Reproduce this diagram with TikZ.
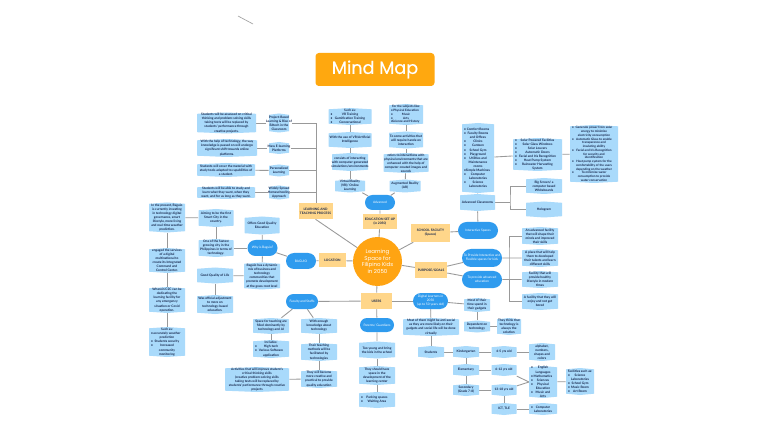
\documentclass[tikz,border=0pt]{standalone}
\usepackage{fontspec}
\setmainfont{Lato}
\newfontfamily\titlefont[FakeBold=0.35]{Poppins}
\newfontfamily\hubfont{Poppins}
\usetikzlibrary{shapes.misc}
\definecolor{boxfill}{HTML}{A9DAFB}
\definecolor{pillfill}{HTML}{2F9BEE}
\definecolor{orangebox}{HTML}{FFD68A}
\definecolor{hubfill}{HTML}{FFA412}
\definecolor{titlefill}{HTML}{FFA80F}
\definecolor{ink}{HTML}{14244A}
\definecolor{linkgray}{HTML}{999999}
\pgfdeclarelayer{background}
\pgfsetlayers{background,main}
\newlength\bw
\newcommand{\smalltxt}{\fontsize{2.4}{3.05}\selectfont}
\newcommand{\tighttxt}{\fontsize{2.3}{2.8}\selectfont}
\newcommand{\bxfont}{\smalltxt}
\newcommand{\bl}[1]{\hbox to \bw{\rlap{\textbullet}\hfill #1\hfill}}
\tikzset{
  boxtext/.style={inner sep=0pt,align=center,text=ink,font=\bxfont\bfseries},
  pilltext/.style={rounded rectangle,fill=pillfill,inner sep=0pt,align=center,text=white,font=\smalltxt},
  orangetext/.style={rectangle,fill=orangebox,inner sep=0pt,align=center,text=ink,font=\smalltxt\bfseries},
  link/.style={draw=linkgray,line width=0.65pt},
  faint/.style={draw=linkgray,line width=0.45pt}
}
% \bx{name}{cx}{cy}{w}{h}{text}
\newcommand{\bx}[6]{%
  \fill[boxfill,shift={(#2,#3)}] ({-#4/2},{-#5/2+1.3})
    .. controls ({-#4/4},{-#5/2}) and ({-#4/4},{-#5/2}) .. (0,{-#5/2})
    .. controls ({#4/4},{-#5/2}) and ({#4/4},{-#5/2}) .. ({#4/2},{-#5/2+1.3})
    -- ({#4/2},{#5/2-1.3})
    .. controls ({#4/4},{#5/2}) and ({#4/4},{#5/2}) .. (0,{#5/2})
    .. controls ({-#4/4},{#5/2}) and ({-#4/4},{#5/2}) .. ({-#4/2},{#5/2-1.3}) -- cycle;
  \setlength\bw{#4pt}\setlength\bw{0.75\bw}\addtolength\bw{-3pt}%
  \node[boxtext,minimum width=#4*0.75pt,minimum height=#5*0.75pt] (#1) at (#2,#3) {#6};}
\newcommand{\pl}[6]{\node[pilltext,minimum width=#4*0.75pt,minimum height=#5*0.75pt] (#1) at (#2,#3) {#6};}
\newcommand{\og}[6]{\node[orangetext,minimum width=#4*0.75pt,minimum height=#5*0.75pt] (#1) at (#2,#3) {#6};}
\begin{document}
\begin{tikzpicture}[x=0.75pt,y=-0.75pt]
\useasboundingbox (0,0) rectangle (768,431);
\begin{pgfonlayer}{background}
\fill[white] (0,0) rectangle (768,431);
\end{pgfonlayer}

\node[fill=titlefill,rounded corners=2.5pt,minimum width=89.25pt,minimum height=24.75pt,inner sep=0pt,text=white,font=\titlefont\fontsize{13.2}{16}\selectfont] (title) at (375,69.5) {Mind Map};

\coordinate (strayA) at (238,16);
\coordinate (strayB) at (253,24);

\node[circle,fill=hubfill,minimum size=36.75pt,inner sep=0pt,align=center,text=white,font=\hubfont\fontsize{4.1}{5}\selectfont] (hub) at (377.5,261.5) {Learning\\Space for\\Filipino Kids\\in 2050};

% orange category boxes
\og{learn}{315.5}{211}{34}{16}{LEARNING AND\\TEACHING PROCESS}
\og{edu}{380}{221.5}{34}{15}{EDUCATION SET-UP\\(in 2050)}
\og{school}{430.5}{233}{39}{18}{SCHOOL FACILITY\\(Spaces)}
\og{purpose}{431}{270}{32}{16}{PURPOSE/GOALS}
\og{loc}{332.5}{260.5}{27}{14}{LOCATION}
\og{users}{376.5}{301}{31}{16}{USERS}

% pills
\pl{baguio}{301}{261}{30}{16}{BAGUIO}
\pl{why}{262.5}{248}{30}{16}{Why is Baguio?}
\pl{adv}{380}{202.5}{30}{15}{Advanced}
\pl{inter}{478}{230.5}{40}{17}{Interactive Spaces}
\pl{pgoalA}{482}{258}{40}{18}{To Provide Interactive and\\Flexible spaces for kids}
\pl{pgoalB}{482}{279.5}{40}{17}{To provide advanced\\education}
\pl{fac}{302}{301.5}{32}{15}{Faculty and Staffs}
\pl{par}{377}{325}{34}{14}{Parents/ Guardians}
\pl{dig}{430.5}{301}{35}{16}{Digital Learners in\\2050\\(up to 50 years old)}

% learning and teaching
\bx{lta}{226.5}{123}{59}{21}{Students will be assessed on critical\\thinking and problem-solving skills\\taking tests will be replaced by\\students' performance through\\creative projects.}
\bx{ltb}{227}{148}{60}{18}{With the help of technology, the way\\knowledge is passed on will undergo\\significant shift towards online\\platforms.}
\bx{ltc}{226}{170}{58}{14}{Students will cover the material with\\study tools adapted to capabilities of\\a student.}
\bx{ltd}{226}{192.5}{58}{13}{Students will be able to study and\\learn what they want, when they\\want, and for as long as they want.}
\bx{pa}{279}{123}{20}{19}{Project-Based\\Learning \& Rise of\\Edtech in the\\Classroom}
\bx{pb}{279}{148}{20}{12}{Mass E-learning\\Platforms}
\bx{pc}{279}{170.5}{20}{12}{Personalized\\Learning}
\bx{pd}{279}{192.5}{20}{14}{Widely Spread\\Homeschooling\\Approach}

% Baguio
\bx{aa}{167}{217.5}{36}{30}{In the present, Baguio\\is currently investing\\in technology digital\\governance, smart\\lifestyle, more living\\and real-time weather\\prediction.}
\bx{ab}{167}{260.5}{36}{25}{engaged the services\\of a digital\\multinational to\\create its Integrated\\Command and\\Control Center.}
\bx{ac}{167}{300}{36}{26}{Wherein C2C can be\\dedicating the\\learning facility for\\any emergency\\situation or Covid\\operation.}
\bx{ad}{167}{342}{36}{30}{Such as:\\\bl{accurately weather}\\prediction\\\bl{Students security}\\\bl{Increased}\\community\\monitoring}
\bx{ba}{216}{218}{35}{18}{Aiming to be the first\\Smart City in the\\country.}
\bx{bb}{216}{248}{35}{18}{One of the fastest\\growing city in the\\Philippines in terms of\\technology.}
\bx{bc}{215}{275.5}{36}{16}{Good Quality of Life}
\bx{bd}{215}{304.5}{36}{19}{Was official adjustment\\to more on\\technology-based\\education.}
\bx{ca}{262}{225.5}{35}{18}{Offers Good Quality\\Education}
\bx{cb}{262}{276}{36}{27}{Baguio has a dynamic\\mix of business and\\technology\\communities that\\promote development\\at the grass-root level}

% education
\bx{da}{350}{186}{30}{13}{Virtual Reality\\(VR)/ Online\\Learning}
\bx{db}{350}{162}{36}{18}{consists of interacting\\with computer-generated\\simulations/environments}
\bx{dc}{350}{140}{43}{16}{With the use of VR/Artificial\\Intelligence}
\bx{dd}{350}{116.5}{43}{17}{Such as:\\\bl{VR Training}\\\bl{Gamification Training}\\\bl{Conversational}}
\bx{ea}{405}{186}{31}{13}{Augmented Reality\\(AR)}
\bx{eb}{406}{163}{45}{20}{refers to interactions with\\physical environments that are\\enhanced with the help of\\computer-created images and\\sounds}
\bx{ec}{406}{140}{34}{17}{To some activities that\\will require hands-on\\interaction}
\renewcommand{\bxfont}{\tighttxt}
\bx{ed}{406}{114.5}{34}{21}{For the subjects like:\\\bl{Physical Education}\\\bl{Music}\\\bl{Arts}\\\bl{Science and History}}
\renewcommand{\bxfont}{\smalltxt}

% school facility
\bx{fa}{478}{158}{32}{70}{\bl{Comfort Rooms}\\\bl{Faculty Rooms}\\and Offices\\\bl{Clinics}\\\bl{Canteen}\\\bl{School Gym}\\\bl{Playground}\\\bl{Utilities and}\\Maintenance\\rooms\\\bl{Simple Machines}\\\bl{Computer}\\Laboratories\\\bl{Science}\\Laboratories}
\bx{fb}{477.5}{202.5}{35}{17}{Advanced Classrooms}
\bx{ga}{537.5}{154.5}{49}{33}{\bl{Solar Powered Facilities}\\\bl{Solar Glass Windows}\\\bl{Solar Louvers}\\\bl{Automatic Doors}\\\bl{Facial and Iris Recognition}\\\bl{Heat Pump System}\\\bl{Rainwater Harvesting}\\System}
\renewcommand{\bxfont}{\tighttxt}
\bx{ha}{594}{154}{48}{58}{\bl{Generate power from solar}\\energy to minimize\\electricity consumption\\\bl{Automatic Glass to enable}\\transparence and\\insulating ability\\\bl{Facial and Iris Recognition}\\for security and\\identification\\\bl{Heat pump system for the}\\comfortability of the users\\depending on the weather\\\bl{To minimize water}\\consumption to provide\\water conservation}
\renewcommand{\bxfont}{\smalltxt}
\bx{ia}{544}{186}{36}{16}{Big Screen/ a\\computer based\\Whiteboards}
\bx{ib}{544}{209.5}{36}{16}{Hologram}

% purpose
\bx{ja}{540}{236}{36}{18}{An advanced facility\\that will shape their\\minds and improved\\their skills}
\bx{jb}{540}{258}{36}{18}{A place that will help\\them to developed\\their talents and learn\\different skills}
\bx{jc}{540}{279.5}{36}{17}{Facility that will\\provide healthy\\lifestyle in modern\\times}
\bx{jd}{540}{301.5}{36}{17}{A facility that they will\\enjoy and not get\\bored}

% faculty
\bx{ka}{271}{326}{36}{16}{Space for teaching are\\filled dominantly by\\technology and AI}
\bx{kb}{271}{349}{36}{18}{Includes:\\\bl{High-tech}\\\bl{Various Software}\\application}
\bx{kc}{257}{379.5}{64}{25}{Activities that will improve student's\\critical thinking skills\\(creative problem-solving skills\\taking tests will be replaced by\\students' performance through creative\\projects}
\bx{ma}{319}{326}{36}{16}{With enough\\knowledge about\\technology}
\bx{mb}{319}{352}{36}{18}{Their teaching\\methods will be\\facilitated by\\technologies}
\bx{mc}{319}{379}{36}{18}{They will become\\more creative and\\practical to provide\\quality education}

% parents
\bx{na}{377}{350}{36}{17}{Too young and bring\\the kids in the school}
\bx{nb}{377}{375.5}{36}{19}{They should have\\space in the\\development of the\\learning center}
\bx{nc}{377}{400}{36}{16}{\bl{Parking spaces}\\\bl{Waiting Area}}

% digital learners
\bx{oa}{477}{305}{26}{14}{Most of their\\time spend in\\their gadgets}
\bx{ob}{477}{326.5}{26}{12}{Dependent on\\technology}
\bx{oc}{509}{326.5}{24}{17}{They think that\\technology is\\always the\\solution}
\bx{od}{431}{327}{56}{18}{Most of them might be anti-social\\as they are more likely on their\\gadgets and social life will be done\\virtually}
\bx{stu}{431}{352}{26}{12}{Students}
\bx{kin}{466}{352}{26}{12}{Kindergarten}
\bx{ele}{466}{370}{26}{12}{Elementary}
\bx{sec}{466}{390}{26}{12}{Secondary\\(Grade 7-8)}
\bx{yra}{504}{352}{25}{12}{4-5 yrs old}
\bx{yrb}{504}{370}{25}{12}{6-12 yrs old}
\bx{yrc}{504}{390}{25}{12}{13-18 yrs old}
\bx{ict}{504}{409}{25}{12}{ICT, TLE}
\bx{qa}{542}{352}{26}{18}{alphabet,\\numbers,\\shapes and\\colors}
\bx{qb}{543}{382}{28}{32}{\bl{English}\\Languages\\\bl{Mathematics}\\\bl{Sciences}\\\bl{Physical}\\Education\\\bl{Music and}\\Arts}
\bx{qc}{543}{409}{28}{12}{\bl{Computer}\\Laboratories}
\bx{qd}{580}{381.5}{28}{27}{Facilities such as:\\\bl{Science}\\Laboratories\\\bl{School Gym}\\\bl{Music Room}\\\bl{Art Room}}

\coordinate (ltbar) at (316,170);
\coordinate (advbar) at (510,202.5);
\coordinate (jbar) at (509,258);
\coordinate (qjoin) at (529,382);

\begin{pgfonlayer}{background}
\draw[faint] (strayA) -- (strayB);
% hub
\draw[link] (hub) -- (learn.south);
\draw[link] (hub) -- (edu);
\draw[link] (hub) -- (school);
\draw[link] (hub) -- (purpose);
\draw[link] (hub) -- (loc);
\draw[link] (hub) -- (users);
\draw[link] (loc) -- (baguio);
\draw[link] (baguio) -- (why);
\draw[link] (edu) -- (adv);
\draw[link] (school) -- (inter);
\draw[link] (purpose) -- (pgoalA);
\draw[link] (purpose) -- (pgoalB);
\draw[link] (users) -- (fac);
\draw[link] (users) -- (par);
\draw[link] (users) -- (dig);
% learning bracket
\draw[link] (learn.north -| ltbar) -- (ltbar |- pa);
\draw[link] (pa) -- (ltbar |- pa);
\draw[link] (pb) -- (ltbar |- pb);
\draw[link] (pc) -- (ltbar |- pc);
\draw[link] (pd) -- (ltbar |- pd);
\draw[link] (lta) -- (pa);
\draw[link] (ltb) -- (pb);
\draw[link] (ltc) -- (pc);
\draw[link] (ltd) -- (pd);
% Baguio
\draw[link] (why) -- (ca);
\draw[link] (why) -- (bb);
\draw[link] (why) -- (cb);
\draw[link] (bb) -- (ba);
\draw[link] (ba) -- (aa);
\draw[link] (aa) -- (ab);
\draw[link] (ab) -- (ac);
\draw[link] (ac) -- (ad);
\draw[link] (bc) -- (cb);
\draw[link] (bc) -- (bd);
% education
\draw[link] (adv) -- (da);
\draw[link] (adv) -- (ea);
\draw[link] (da) -- (db);
\draw[link] (db) -- (dc);
\draw[link] (dc) -- (dd);
\draw[link] (ea) -- (eb);
\draw[link] (eb) -- (ec);
\draw[link] (ec) -- (ed);
% school
\draw[link] (inter) -- (fb);
\draw[link] (fb) -- (fa);
\draw[link] (fa) -- (ga);
\draw[link] (ga) -- (ha);
\draw[link] (fb) -- (advbar);
\draw[link] (ia.west) -| (advbar) |- (ib.west);
% purpose
\draw[link] (pgoalA) -- (jb);
\draw[link] (pgoalB) -- (jc);
\draw[link] (ja.west) -| (jbar) |- (jd.west);
% faculty
\draw[link] (fac) -- (ka);
\draw[link] (fac) -- (ma);
\draw[link] (ka) -- (kb);
\draw[link] (ma) -- (mb);
\draw[link] (mb) -- (mc);
\draw[link] (mc) -- (kc);
% parents
\draw[link] (par) -- (na);
\draw[link] (na) -- (nb);
\draw[link] (nb) -- (nc);
% digital
\draw[link] (dig) -- (oa);
\draw[link] (oa) -- (ob);
\draw[link] (ob) -- (oc);
\draw[link] (dig) -- (od);
\draw[link] (od) -- (stu);
\draw[link] (stu) -- (kin);
\draw[link] (kin) -- (ele);
\draw[link] (ele) -- (sec);
\draw[link] (kin) -- (yra);
\draw[link] (ele) -- (yrb);
\draw[link] (sec) -- (yrc);
\draw[link] (yra) -- (qa);
\draw[link] (yrb) -- (qjoin);
\draw[link] (yrc) -- (qjoin);
\draw[link] (qjoin) -- (qb);
\draw[link] (yrc) -- (ict);
\draw[link] (ict) -- (qc);
\draw[link] (qb) -- (qd);
\end{pgfonlayer}
\end{tikzpicture}
\end{document}
